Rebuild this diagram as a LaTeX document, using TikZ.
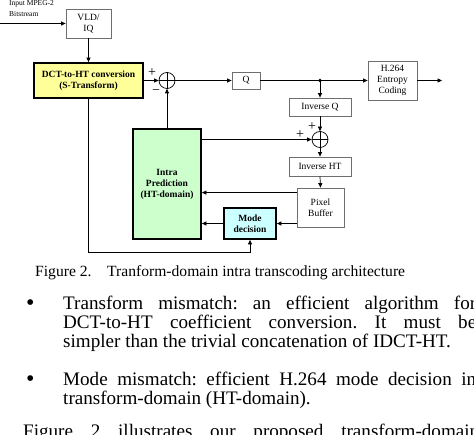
\documentclass[tikz,border=0pt]{standalone}
\usepackage{fontspec}
\setmainfont{Liberation Serif}
\usetikzlibrary{arrows.meta,calc}
\definecolor{boxgray}{RGB}{110,110,110}
\definecolor{dctyellow}{RGB}{255,255,153}
\definecolor{intragreen}{RGB}{204,255,204}
\definecolor{modecyan}{RGB}{204,255,255}
\frenchspacing
\tikzset{
  lbl/.style={font=\fontsize{9.5}{11}\selectfont, align=center, inner sep=0pt},
  thinbox/.style={lbl, draw=boxgray, line width=0.8pt, fill=white},
  thickbox/.style={lbl, draw=black, line width=1.8pt, font=\fontsize{9.5}{11}\selectfont\bfseries},
  adder/.style={circle, draw=black, line width=0.7pt, minimum size=16pt, inner sep=0pt},
  conn/.style={draw=black, line width=0.7pt, -{Triangle[length=4.5pt,width=4pt]}},
  plain/.style={draw=black, line width=0.7pt},
  sign/.style={font=\fontsize{14}{14}\selectfont, inner sep=0pt},
  bodytext/.style={font=\fontsize{19.1}{19}\selectfont\frenchspacing, inner sep=0pt, anchor=base west},
  bullet/.style={font=\fontsize{24}{24}\selectfont, inner sep=0pt, anchor=base west},
}
\begin{document}
\begin{tikzpicture}[x=1pt,y=-1pt]
\clip (0,0) rectangle (474,435);
\fill[white] (0,0) rectangle (474,435);

% input label
\node[font=\fontsize{7.5}{8}\selectfont, inner sep=0pt, anchor=base west] (inlab1) at (9,6) {Input MPEG-2};
\node[font=\fontsize{7.5}{8}\selectfont, inner sep=0pt, anchor=base west] (inlab2) at (9,17) {Bitstream};

% blocks
\node[thinbox, minimum width=45pt, minimum height=29pt] (vld) at (88.5,23.5) {VLD/\\IQ};
\node[thickbox, fill=dctyellow, minimum width=109pt, minimum height=35pt] (dct) at (88.5,80.5) {DCT-to-HT conversion\\(S-Transform)};
\node[adder] (add1) at (167,80.5) {};
\node[thinbox, minimum width=28pt, minimum height=17pt] (q) at (246,80.5) {Q};
\node[thinbox, minimum width=49pt, minimum height=39pt] (ent) at (392.5,80.5) {H.264\\Entropy\\Coding};
\node[thinbox, minimum width=62pt, minimum height=18pt] (invq) at (320,107) {Inverse Q};
\node[adder] (add2) at (320,139.5) {};
\node[thinbox, minimum width=62pt, minimum height=19pt] (invht) at (320,166.5) {Inverse HT};
\node[thinbox, minimum width=47pt, minimum height=39pt] (pix) at (320.5,207.5) {Pixel\\Buffer};
\node[thickbox, fill=intragreen, minimum width=68pt, minimum height=110pt] (intra) at (167,184) {Intra\\Prediction\\(HT-domain)};
\node[thickbox, fill=modecyan, minimum width=52pt, minimum height=31pt] (mode) at (250,223.5) {Mode\\decision};

% adder crosses
\draw[plain] (add1.north) -- (add1.south) (add1.west) -- (add1.east);
\draw[plain] (add2.north) -- (add2.south) (add2.west) -- (add2.east);

% signs
\node[sign] (s1) at (152,73) {+};
\node[sign] (s2) at (156,92) {−};
\node[sign] (s3) at (312,127) {+};
\node[sign] (s4) at (300,135) {+};

% coordinates
\coordinate (inp) at (0,23.5);
\coordinate (out) at (442,80.5);
\coordinate (jn) at (invq.north |- q.east);
\coordinate (fb) at (mode.south |- 0,252);
\coordinate (pixtop) at ([yshift=-5pt]pix.north west);

% connectors
\draw[conn] (inp) -- (vld.west);
\draw[conn] (vld.south) -- (dct.north);
\draw[conn] (dct.east) -- (add1.west);
\draw[conn] (intra.north) -- (add1.south);
\draw[conn] (add1.east) -- (q.west);
\draw[conn] (q.east) -- (ent.west);
\fill (jn) circle (1.8);
\draw[conn] (ent.east) -- (out);
\draw[conn] (jn) -- (invq.north);
\draw[conn] (invq.south) -- (add2.north);
\draw[conn] (intra.east |- add2.west) -- (add2.west);
\draw[conn] (add2.south) -- (invht.north);
\draw[conn] (invht.south) -- (pix.north);
\draw[conn] (pixtop) -- (intra.east |- pixtop);
\draw[conn] (pix.west |- mode.east) -- (mode.east);
\draw[conn] (mode.west) -- (intra.east |- mode.west);
\draw[conn] (dct.south) |- (fb) -- (mode.south);

% caption
\node[font=\fontsize{15.6}{16}\selectfont, inner sep=0pt, anchor=base west] (cap) at (35,277) {Figure 2.\hspace{15.7pt}Tranform-domain intra transcoding architecture};

% bullets and body text
\node[bullet] (b1) at (26,310.5) {•};
\node[bodytext] (l1) at (63,309.5) {\makebox[413pt][s]{Transform mismatch: an efficient algorithm for}};
\node[bodytext] (l2) at (63,328.5) {\makebox[413pt][s]{DCT-to-HT coefficient conversion. It must be}};
\node[bodytext] (l3) at (63,347.5) {simpler than the trivial concatenation of IDCT-HT.};
\node[bullet] (b2) at (26,387) {•};
\node[bodytext] (l4) at (63,386) {\makebox[413pt][s]{Mode mismatch: efficient H.264 mode decision in}};
\node[bodytext] (l5) at (63,404.5) {transform-domain (HT-domain).};
\node[bodytext] (l6) at (23,438) {\makebox[456pt][s]{Figure 2 illustrates our proposed transform-domain}};
\end{tikzpicture}
\end{document}
